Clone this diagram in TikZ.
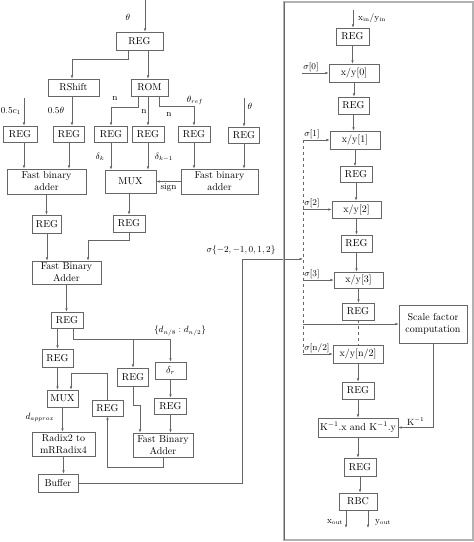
\documentclass[tikz,border=0pt]{standalone}
\usepackage{amsmath}
\usetikzlibrary{arrows.meta}
\tikzset{block/.style = {draw=black!60, fill=white, rectangle, minimum height=17pt, minimum width=32pt, inner sep=2pt},
         wblock/.style = {block, align=center, minimum height=24pt},
         wire/.style = {draw=black!60, semithick},
         arrow/.style = {wire, -{Latex[length=3.5pt,width=2.6pt]}},
         lbl/.style = {font=\small, inner sep=1pt}}
\begin{document}
\begin{tikzpicture}[x=1pt,y=-1pt]
        \useasboundingbox (0,0) rectangle (474,542);

        % left part
        \node[block, minimum width=47pt, minimum height=18pt] (reg0) at (139.5,41) {REG};
        \node[block, minimum width=51pt] (rshift) at (73.5,87.5) {RShift};
        \node[block, minimum width=37pt] (rom) at (149.5,87.5) {ROM};
        \node[block, minimum width=34pt, minimum height=16pt] (regc) at (20,134) {REG};
        \node[block, minimum width=31pt, minimum height=16pt] (regh) at (69,134) {REG};
        \node[block, minimum width=33pt, minimum height=16pt] (regn1) at (111,134) {REG};
        \node[block, minimum height=16pt] (regn2) at (148,134) {REG};
        \node[block, minimum height=16pt] (regref) at (194,134) {REG};
        \node[block, minimum width=31pt, minimum height=16pt] (regt) at (244,135) {REG};
        \node[wblock, minimum width=79pt, minimum height=25pt] (fba1) at (46.5,181.5) {Fast binary\\adder};
        \node[block, minimum width=51pt, minimum height=23pt] (mux1) at (130.5,181.5) {MUX};
        \node[wblock, minimum width=77pt, minimum height=25pt] (fba2) at (219.5,181.5) {Fast binary\\adder};
        \node[block, minimum width=29pt, minimum height=18pt] (rega) at (47,224) {REG};
        \node[block] (regm) at (129,223.5) {REG};
        \node[wblock, minimum width=69pt, minimum height=23pt] (fba3) at (66.5,272.5) {Fast Binary\\Adder};
        \node[block, minimum height=16pt] (regs) at (67,320) {REG};
        \node[block, minimum width=31pt, minimum height=18pt] (regd) at (57.5,358) {REG};
        \node[block, minimum width=31pt, minimum height=18pt] (regr) at (133,377) {REG};
        \node[block, minimum width=31pt] (deltar) at (170.5,370.5) {$\delta_r$};
        \node[block, minimum width=31pt] (mux2) at (62.5,398.5) {MUX};
        \node[block, minimum width=31pt, minimum height=16pt] (regf) at (107.5,408) {REG};
        \node[block, minimum height=16pt] (regdr) at (170.5,406) {REG};
        \node[wblock, minimum width=60pt] (fba4) at (163,445) {Fast Binary\\Adder};
        \node[wblock, minimum width=63pt] (radix) at (63.5,444) {Radix2 to\\mRRadix4};
        \node[block, minimum width=40pt, minimum height=18pt] (buffer) at (58,483) {Buffer};

        \coordinate (thin) at (145,0);
        \draw[arrow] (thin) -- (thin |- reg0.north);
        \node[lbl] at (128,17) {$\theta$};
        \draw[arrow] ([xshift=-11.5pt]reg0.south) -- ++(0,9) -| ([xshift=-1.5pt]rshift.north);
        \draw[arrow] ([xshift=8.5pt]reg0.south) -- ([xshift=-1.5pt]rom.north);
        \coordinate (cin) at (24,98);
        \draw[arrow] (cin) -- (cin |- regc.north);
        \node[lbl, anchor=east] at (22,111) {$0.5c_1$};
        \draw[arrow] ([xshift=-1.5pt]rshift.south) -- ([xshift=3pt]regh.north);
        \node[lbl] at (56,110) {$0.5\theta$};
        \draw[arrow] ([xshift=-11.5pt]rom.south) -- ++(0,11) -| (regn1.north);
        \node[lbl] at (115,99) {n};
        \draw[arrow] ([xshift=-1.5pt]rom.south) -- (regn2.north);
        \node[lbl] at (144,112) {n};
        \draw[arrow] ([xshift=9.5pt]rom.south) -- ++(0,10) -| (regref.north);
        \node[lbl] at (169,115) {n};
        \node[lbl] at (195,100) {$\theta_{ref}$};
        \coordinate (thin2) at (244,98);
        \draw[arrow] (thin2) -- (thin2 |- regt.north);
        \node[lbl] at (250,106) {$\theta$};

        \draw[arrow] ([xshift=4pt]regc.south) -- ([xshift=-22.5pt]fba1.north);
        \draw[arrow] (regh.south) -- ([xshift=22.5pt]fba1.north);
        \draw[arrow] (regn1.south) -- ([xshift=-19.5pt]mux1.north);
        \node[lbl] at (100,157) {$\delta_k$};
        \draw[arrow] (regn2.south) -- ([xshift=17.5pt]mux1.north);
        \node[lbl] at (164,157) {$\delta_{k-1}$};
        \draw[arrow] (regref.south) -- ([xshift=-25.5pt]fba2.north);
        \draw[arrow] (regt.south) -- ([xshift=24.5pt]fba2.north);
        \draw[arrow] (fba2.west) -- node[lbl, below=1pt] {sign} (mux1.east);

        \draw[arrow] (fba1.south) -- (fba1.south |- rega.north);
        \draw[arrow] (mux1.south -| regm.north) -- (regm.north);
        \draw[arrow] (rega.south) -- (rega.south |- fba3.north);
        \draw[arrow] (regm.south) -- ++(0,8) -| ([xshift=21.5pt]fba3.north);
        \draw[arrow] (fba3.south) -- (fba3.south |- regs.north);
        \draw[arrow] (regs.south -| regd.north) -- (regd.north);
        \draw[arrow] ([xshift=6pt]regs.south) -- ++(0,11) coordinate (fork) -| (deltar.north);
        \node[lbl] at (180,331) {$\{d_{n/8}:d_{n/2}\}$};
        \draw[arrow] (fork -| regr.north) -- (regr.north);
        \draw[arrow] (deltar.south) -- (deltar.south |- regdr.north);
        \draw[arrow] (regdr.south) -- (regdr.south |- fba4.north);
        \draw[arrow] (regr.south) -- ++(0,19) -| ([xshift=-23pt]fba4.north);
        \draw[arrow] (regd.south) -- (regd.south |- mux2.north);
        \draw[arrow] (fba4.south) -- ++(0,10) -| (regf.south);
        \draw[arrow] (regf.north) -- ++(0,-27) -| ([xshift=8.5pt]mux2.north);
        \draw[arrow] (mux2.south) -- (mux2.south |- radix.north);
        \node[lbl] at (40,417) {$d_{approx}$};
        \draw[arrow] (radix.south) -- (radix.south |- buffer.north);

        \coordinate (bend) at (242,259);
        \coordinate (busin) at (303,259);
        \draw[arrow] (buffer.east) -| (bend) -- (busin);
        \node[lbl] at (241,250) {$\sigma\{-2,-1,0,1,2\}$};

        % right part
        \draw[black!30, line width=1.5pt] (284,2) rectangle (473,540);
        \draw[black!60, line width=1pt] (284,2) -- (284,540);

        \node[block, minimum width=33pt] (rin) at (352.5,36.5) {REG};
        \node[block, minimum width=50pt, minimum height=18pt] (xy0) at (354,73) {x/y[0]};
        \node[block, minimum width=31pt] (r1) at (353.5,105.5) {REG};
        \node[block, minimum width=50pt, minimum height=18pt] (xy1) at (355,140) {x/y[1]};
        \node[block, minimum height=16pt] (r2) at (356,174.5) {REG};
        \node[block, minimum width=49pt] (xy2) at (356.5,209.5) {x/y[2]};
        \node[block, minimum width=31pt] (r3) at (356.5,243.5) {REG};
        \node[block, minimum width=49pt, minimum height=16pt] (xy3) at (358.5,280) {x/y[3]};
        \node[block] (r4) at (358,311.5) {REG};
        \node[block, minimum width=50pt, minimum height=18pt] (xyn) at (358,354) {x/y[n/2]};
        \node[block] (r5) at (358,390.5) {REG};
        \node[block, minimum width=80pt, minimum height=19pt] (kmul) at (358,427.5) {K$^{-1}$.x and K$^{-1}$.y};
        \node[block, minimum height=18pt] (r6) at (360,467) {REG};
        \node[block, minimum width=38pt] (rbc) at (358,501.5) {RBC};
        \node[wblock, minimum width=68pt, minimum height=38pt] (scale) at (433,324) {Scale factor\\computation};

        \coordinate (xin) at (353,10);
        \draw[arrow] (xin) -- (xin |- rin.north);
        \node[lbl, anchor=west] at (357,18) {$\mathrm{x_{in}/y_{in}}$};
        \draw[arrow] (rin.south) -- (rin.south |- xy0.north);
        \draw[arrow] (xy0.south) -- (xy0.south |- r1.north);
        \draw[arrow] (r1.south) -- (r1.south |- xy1.north);
        \draw[arrow] (xy1.south) -- (xy1.south |- r2.north);
        \draw[arrow] (r2.south) -- (r2.south |- xy2.north);
        \draw[arrow] (xy2.south) -- (xy2.south |- r3.north);
        \draw[arrow] (r3.south) -- (r3.south |- xy3.north);
        \draw[arrow] (xy3.south) -- (xy3.south |- r4.north);
        \draw[wire, dashed] (r4.south) -- (r4.south |- xyn.north);
        \draw[arrow] (xyn.south) -- (xyn.south |- r5.north);
        \draw[arrow] (r5.south) -- (r5.south |- kmul.north);
        \draw[arrow] (kmul.south) -- (kmul.south |- r6.north);
        \draw[arrow] (r6.south) -- (r6.south |- rbc.north);

        \coordinate (s0) at (302,73);
        \draw[arrow] (s0) node[lbl, above right] {$\sigma$[0]} -- (xy0.west);
        \coordinate (bustop) at (303,140);
        \coordinate (busbot) at (303,354);
        \draw[wire, dashed] (bustop) -- (busbot);
        \draw[arrow] (xy1.west -| bustop) node[lbl, above right] {$\sigma$[1]} -- (xy1.west);
        \draw[arrow] (xy2.west -| bustop) node[lbl, above right] {$\sigma$[2]} -- (xy2.west);
        \draw[arrow] (xy3.west -| bustop) node[lbl, above right] {$\sigma$[3]} -- (xy3.west);
        \draw[arrow] (xyn.west -| bustop) node[lbl, above right] {$\sigma$[n/2]} -- (xyn.west);
        \draw[arrow] (scale.west -| bustop) -- (scale.west);
        \draw[arrow] (scale.south) |- node[lbl, pos=0.75, above=1pt] {K$^{-1}$} (kmul.east);

        \coordinate (xout) at (346,528);
        \coordinate (yout) at (368,528);
        \draw[arrow] (rbc.south -| xout) -- (xout);
        \draw[arrow] (rbc.south -| yout) -- (yout);
        \node[lbl] at (335,522) {$\mathrm{x_{out}}$};
        \node[lbl] at (383,522) {$\mathrm{y_{out}}$};
    \end{tikzpicture}
\end{document}
